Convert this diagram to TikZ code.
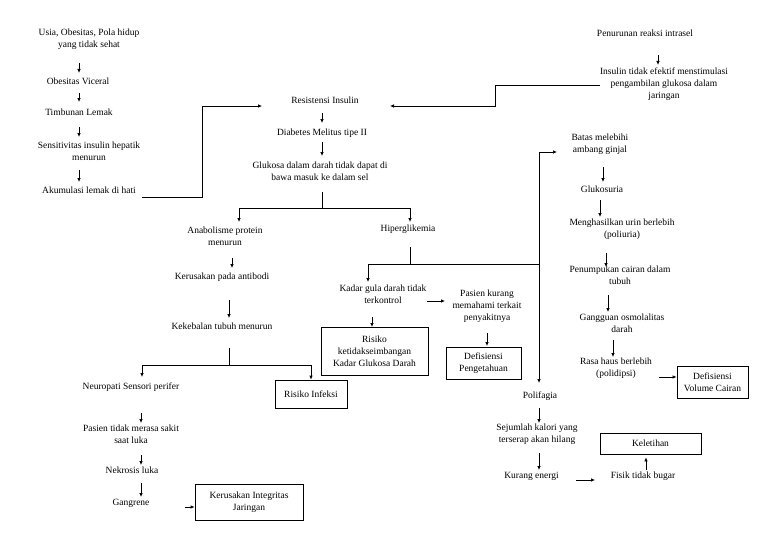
\documentclass[tikz,border=0pt]{standalone}
\usepackage{fontspec}
\setmainfont{Liberation Serif}
\usetikzlibrary{arrows.meta}
\newcommand\varrow[5]{\draw[arr, shorten <=#4pt, shorten >=#5pt] ([xshift=#3pt]#1.center) -- ([xshift=#3pt]#1.center |- #2.center);}
\begin{document}
\begin{tikzpicture}[x=1pt,y=-1pt,
  txt/.style={font=\fontsize{9.5}{12}\selectfont, align=center, inner sep=0pt},
  box/.style={txt, draw, line width=0.7pt},
  arr/.style={line width=0.7pt, -{Latex[length=4pt,width=3.5pt]}},
  ln/.style={line width=0.7pt}]
\useasboundingbox[fill=white] (0,0) rectangle (768,543);
% left column
\node[txt] (usia) at (89,39) {Usia, Obesitas, Pola hidup\\yang tidak sehat};
\node[txt] (obv) at (78,81) {Obesitas Viceral};
\node[txt] (timb) at (79,112) {Timbunan Lemak};
\node[txt] (sens) at (89,151.5) {Sensitivitas insulin hepatik\\menurun};
\node[txt] (akum) at (89,190) {Akumulasi lemak di hati};
% centre
\node[txt] (resist) at (325,100) {Resistensi Insulin};
\node[txt] (diab) at (322,133) {Diabetes Melitus tipe II};
\node[txt] (glu) at (320,171) {Glukosa dalam darah tidak dapat di\\bawa masuk ke dalam sel};
% top right
\node[txt] (penur) at (645,33) {Penurunan reaksi intrasel};
\node[txt] (insul) at (664,84) {Insulin tidak efektif menstimulasi\\pengambilan glukosa dalam\\jaringan};
% left branch
\node[txt] (anab) at (225,236) {Anabolisme protein\\menurun};
\node[txt] (keru) at (222,277) {Kerusakan pada antibodi};
\node[txt] (keke) at (222,326) {Kekebalan tubuh menurun};
\node[txt] (neuro) at (131,387) {Neuropati Sensori perifer};
\node[txt] (pas) at (131,434) {Pasien tidak merasa sakit\\saat luka};
\node[txt] (nek) at (132,470) {Nekrosis luka};
\node[txt] (gang) at (131,503) {Gangrene};
\node[box, minimum width=108, minimum height=36] (kerint) at (249,502) {Kerusakan Integritas\\Jaringan};
\node[box, minimum width=72, minimum height=28] (rinf) at (311,394) {Risiko Infeksi};
% hyperglycemia branch
\node[txt] (hyper) at (408,229) {Hiperglikemia};
\node[txt] (kadar) at (383,294) {Kadar gula darah tidak\\terkontrol};
\node[box, minimum width=107, minimum height=48] (rkgd) at (374.5,351) {Risiko\\ketidakseimbangan\\Kadar Glukosa Darah};
\node[txt] (pask) at (487,306) {Pasien kurang\\memahami terkait\\penyakitnya};
\node[box, minimum width=75, minimum height=32] (defp) at (483.5,363) {Defisiensi\\Pengetahuan};
% right column
\node[txt] (batas) at (600,144.5) {Batas melebihi\\ambang ginjal};
\node[txt] (gluk) at (602,189) {Glukosuria};
\node[txt] (mengh) at (622,229) {Menghasilkan urin berlebih\\(poliuria)};
\node[txt] (penump) at (620,275.5) {Penumpukan cairan dalam\\tubuh};
\node[txt] (gangg) at (622,323.5) {Gangguan osmolalitas\\darah};
\node[txt] (rasa) at (616,368) {Rasa haus berlebih\\(polidipsi)};
\node[box, minimum width=71, minimum height=32] (defvol) at (712.5,382) {Defisiensi\\Volume Cairan};
\node[txt] (polif) at (540,396) {Polifagia};
\node[txt] (sejum) at (537,434.5) {Sejumlah kalori yang\\terserap akan hilang};
\node[txt] (kurang) at (531.5,476) {Kurang energi};
\node[txt] (fisik) at (643,476) {Fisik tidak bugar};
\node[box, minimum width=101, minimum height=21] (kelet) at (650.5,443.5) {Keletihan};
% junctions
\coordinate (j1) at (322,208);
\coordinate (j2) at (229,365);
\coordinate (j3) at (410,264);
\coordinate (j4) at (539,264);
\coordinate (k1) at (202,197);
\coordinate (k2) at (495,85);
% vertical arrows
\varrow{usia}{obv}{-10}{24}{8}
\varrow{obv}{timb}{1}{12}{10}
\varrow{timb}{sens}{0}{15}{14.5}
\varrow{sens}{akum}{-10}{18.5}{8}
\varrow{resist}{diab}{-3}{13}{10}
\varrow{diab}{glu}{0}{9}{15}
\varrow{anab}{keru}{7}{22}{9}
\varrow{keru}{keke}{7}{23}{8}
\varrow{neuro}{pas}{10}{26}{11}
\varrow{pas}{nek}{10}{21}{5}
\varrow{nek}{gang}{9}{13}{6}
\varrow{kadar}{rkgd}{-11}{23}{24}
\varrow{pask}{defp}{0}{27}{17}
\varrow{penur}{insul}{13}{22}{19}
\varrow{batas}{gluk}{3}{22.5}{7}
\varrow{gluk}{mengh}{-2}{11}{12}
\varrow{mengh}{penump}{-16}{24}{8.5}
\varrow{penump}{gangg}{-12}{19.5}{11.5}
\varrow{gangg}{rasa}{-9}{16.5}{11}
\varrow{polif}{sejum}{-1}{12}{11.5}
\varrow{sejum}{kurang}{2}{18.5}{6}
% elbow connectors
\draw[arr, shorten <=53pt, shorten >=63pt] ([yshift=-7pt]akum.center) -- (k1) |- ([yshift=-6pt]resist.center);
\draw[arr, shorten <=64pt, shorten >=65pt] ([yshift=-1pt]insul.center) -- (k2) |- ([yshift=-6pt]resist.center);
\draw[ln, shorten <=21pt] (glu.center -| j1) -- (j1);
\draw[arr, shorten >=14pt] (j1) -| ([xshift=14pt]anab.center);
\draw[arr, shorten >=7pt] (j1) -| ([xshift=2pt]hyper.center);
\draw[ln, shorten <=22pt] (keke.center -| j2) -- (j2);
\draw[arr, shorten >=10pt] (j2) -| ([xshift=11pt]neuro.center);
\draw[arr] (j2) -| (rinf.north);
\draw[ln, shorten <=18pt] (hyper.center -| j3) -- (j3);
\draw[arr, shorten >=12pt] (j3) -| ([xshift=-15pt]kadar.center);
\draw[ln] (j3) -- (j4);
\draw[arr, shorten >=43pt] (j4) |- ([yshift=-7.5pt]batas.center);
\draw[arr, shorten >=13pt] (j4) -- (j4 |- polif.center);
% horizontal arrows
\draw[arr, shorten <=44pt, shorten >=42pt] ([yshift=-7pt]kadar.center) -- ([yshift=-7pt]kadar.center -| pask.center);
\draw[arr, shorten <=54pt] ([yshift=-4pt]gang.center) -- ([yshift=-4pt]gang.center -| kerint.west);
\draw[arr, shorten <=43pt] ([yshift=-9pt]rasa.center) -- ([yshift=-9pt]rasa.center -| defvol.west);
\draw[arr, shorten <=44.5pt, shorten >=48pt] ([yshift=-4pt]kurang.center) -- ([yshift=-4pt]kurang.center -| fisik.center);
\draw[arr, shorten <=6pt, shorten >=3pt] ([xshift=3pt]fisik.center) -- ([xshift=3pt]fisik.center |- kelet.south);
\end{tikzpicture}
\end{document}
